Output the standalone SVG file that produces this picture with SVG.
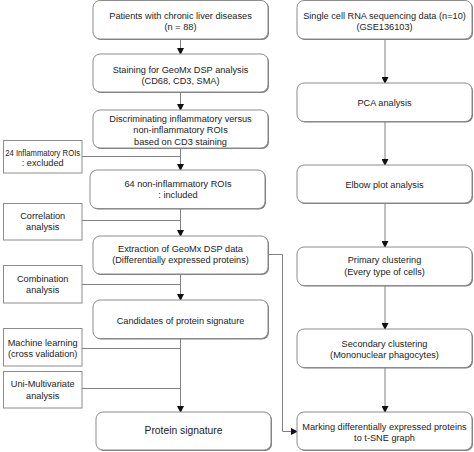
<svg xmlns="http://www.w3.org/2000/svg" width="474" height="452" viewBox="0 0 474 452">
<style>
.b{fill:#fff;stroke:#8c8c8c;stroke-width:1}
.sh{fill:#7a7a7a;stroke:none}
.s{fill:#fff;stroke:#8c8c8c;stroke-width:1}
.t{font-family:"Liberation Sans",Arial,sans-serif;font-size:9.2px;fill:#222;text-anchor:middle}
.big{font-size:10.3px}
.c{fill:none;stroke:#808080;stroke-width:1}
</style>
<defs>
<marker id="ah" markerWidth="7" markerHeight="7" refX="6" refY="3.5" orient="auto" markerUnits="userSpaceOnUse">
<path d="M0,0 L7,3.5 L0,7 Z" fill="#111"/>
</marker>
</defs>
<rect width="474" height="452" fill="#fff"/>
<g id="connectors">
<path class="c" d="M180.5,39 V54" marker-end="url(#ah)"/>
<path class="c" d="M180.5,92 V110" marker-end="url(#ah)"/>
<path class="c" d="M180.5,148 V170" marker-end="url(#ah)"/>
<path class="c" d="M82,156.5 H180.5"/>
<path class="c" d="M180.5,209 V236" marker-end="url(#ah)"/>
<path class="c" d="M82,220.5 H180.5"/>
<path class="c" d="M180.5,274 V300" marker-end="url(#ah)"/>
<path class="c" d="M82,284.5 H180.5"/>
<path class="c" d="M180.5,339 V412" marker-end="url(#ah)"/>
<path class="c" d="M82,348.5 H180.5"/>
<path class="c" d="M82,388.5 H180.5"/>
<path class="c" d="M268,254.5 H282.5 V431.5 H297" marker-end="url(#ah)"/>
<path class="c" d="M385,39 V83" marker-end="url(#ah)"/>
<path class="c" d="M385,122 V165" marker-end="url(#ah)"/>
<path class="c" d="M385,203 V247" marker-end="url(#ah)"/>
<path class="c" d="M385,286 V329" marker-end="url(#ah)"/>
<path class="c" d="M385,368 V412" marker-end="url(#ah)"/>
</g>
<g id="n1"><rect class="sh" x="94" y="1.5" width="175" height="38.5" rx="7"/><rect class="b" x="93" y="0.5" width="175" height="38.5" rx="7"/>
<text class="t" x="180.5" y="19.3">Patients with chronic liver diseases</text><text class="t" x="180.5" y="30.3">(n = 88)</text></g>
<g id="n2"><rect class="sh" x="94" y="55" width="175" height="38" rx="7"/><rect class="b" x="93" y="54" width="175" height="38" rx="7"/>
<text class="t" x="180.5" y="73.3">Staining for GeoMx DSP analysis</text><text class="t" x="180.5" y="84.3">(CD68, CD3, SMA)</text></g>
<g id="n3"><rect class="sh" x="94" y="111" width="175" height="38" rx="7"/><rect class="b" x="93" y="110" width="175" height="38" rx="7"/>
<text class="t" x="180.5" y="122.3">Discriminating inflammatory versus</text><text class="t" x="180.5" y="133.3">non-inflammatory ROIs</text><text class="t" x="180.5" y="144.6">based on CD3 staining</text></g>
<g id="n24"><rect class="s" x="3.5" y="140.5" width="78.5" height="32.5"/>
<text class="t" x="42.7" y="155.8" textLength="75" lengthAdjust="spacingAndGlyphs">24 Inflammatory ROIs</text><text class="t" x="42.7" y="166.3">: excluded</text></g>
<g id="n4"><rect class="sh" x="91" y="171" width="175" height="38.5" rx="7"/><rect class="b" x="90" y="170" width="175" height="38.5" rx="7"/>
<text class="t" x="178" y="187.3">64 non-inflammatory ROIs</text><text class="t" x="178" y="197.8">: included</text></g>
<g id="ncorr"><rect class="s" x="3.5" y="203.5" width="78.5" height="36.5"/>
<text class="t" x="42.7" y="219.3">Correlation</text><text class="t" x="42.7" y="230.3">analysis</text></g>
<g id="n5"><rect class="sh" x="94" y="237" width="175" height="38" rx="7"/><rect class="b" x="93" y="236" width="175" height="38" rx="7"/>
<text class="t" x="180.5" y="252.3">Extraction of GeoMx DSP data</text><text class="t" x="180.5" y="263.3">(Differentially expressed proteins)</text></g>
<g id="ncomb"><rect class="s" x="3.5" y="265.5" width="78.5" height="37.5"/>
<text class="t" x="42.7" y="282.3">Combination</text><text class="t" x="42.7" y="293.3">analysis</text></g>
<g id="n6"><rect class="sh" x="94" y="301" width="175" height="38.5" rx="7"/><rect class="b" x="93" y="300" width="175" height="38.5" rx="7"/>
<text class="t" x="180.5" y="324.3">Candidates of protein signature</text></g>
<g id="nml"><rect class="s" x="3.5" y="328.5" width="78.5" height="37.5"/>
<text class="t" x="42.7" y="346.3">Machine learning</text><text class="t" x="42.7" y="356.8">(cross validation)</text></g>
<g id="nuni"><rect class="s" x="3.5" y="371.5" width="78.5" height="36.5"/>
<text class="t" x="42.7" y="387.3">Uni-Multivariate</text><text class="t" x="42.7" y="399">analysis</text></g>
<g id="n7"><rect class="sh" x="97" y="413" width="175" height="38" rx="7"/><rect class="b" x="96" y="412" width="175" height="38" rx="7"/>
<text class="t big" x="183.5" y="433.7">Protein signature</text></g>
<g id="r1"><rect class="sh" x="298" y="1.5" width="175" height="38.5" rx="7"/><rect class="b" x="297" y="0.5" width="175" height="38.5" rx="7"/>
<text class="t" x="384.5" y="19.3">Single cell RNA sequencing data (n=10)</text><text class="t" x="384.5" y="30.3">(GSE136103)</text></g>
<g id="r2"><rect class="sh" x="298" y="84" width="175" height="38.5" rx="7"/><rect class="b" x="297" y="83" width="175" height="38.5" rx="7"/>
<text class="t" x="384.5" y="106.3">PCA analysis</text></g>
<g id="r3"><rect class="sh" x="298" y="166" width="175" height="38" rx="7"/><rect class="b" x="297" y="165" width="175" height="38" rx="7"/>
<text class="t" x="384.5" y="188.3">Elbow plot analysis</text></g>
<g id="r4"><rect class="sh" x="298" y="248" width="175" height="38.5" rx="7"/><rect class="b" x="297" y="247" width="175" height="38.5" rx="7"/>
<text class="t" x="384.5" y="263.3">Primary clustering</text><text class="t" x="384.5" y="274.8">(Every type of cells)</text></g>
<g id="r5"><rect class="sh" x="298" y="330" width="175" height="38.5" rx="7"/><rect class="b" x="297" y="329" width="175" height="38.5" rx="7"/>
<text class="t" x="384.5" y="347.3">Secondary clustering</text><text class="t" x="384.5" y="358.3">(Mononuclear phagocytes)</text></g>
<g id="r6"><rect class="sh" x="298" y="413" width="175" height="38" rx="7"/><rect class="b" x="297" y="412" width="175" height="38" rx="7"/>
<text class="t" x="384.5" y="430.3">Marking differentially expressed proteins</text><text class="t" x="384.5" y="441.3">to t-SNE graph</text></g>
</svg>
